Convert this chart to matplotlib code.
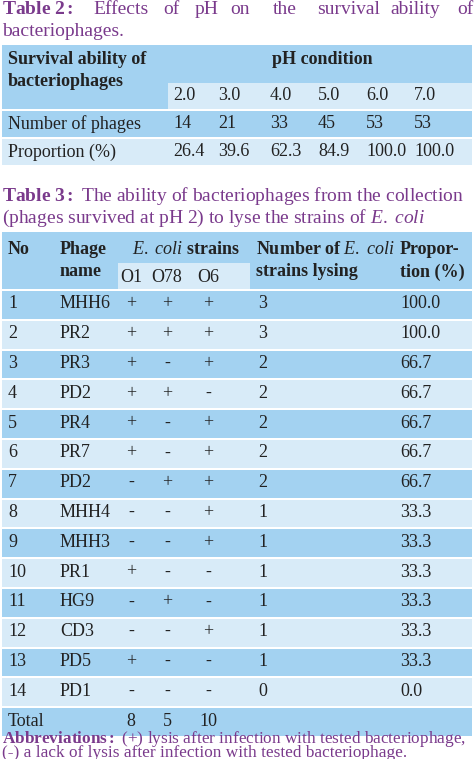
import matplotlib
matplotlib.use('Agg')
import matplotlib.pyplot as plt
from matplotlib.patches import Rectangle

plt.rcParams['font.family'] = 'Liberation Serif'
plt.rcParams['mathtext.fontset'] = 'custom'
plt.rcParams['mathtext.rm'] = 'Liberation Serif'
plt.rcParams['mathtext.it'] = 'Liberation Serif:italic'
plt.rcParams['mathtext.bf'] = 'Liberation Serif:bold'

# Table 2 data
ph_values = ['2.0', '3.0', '4.0', '5.0', '6.0', '7.0']
n_phages = ['14', '21', '33', '45', '53', '53']
proportion_ph = ['26.4', '39.6', '62.3', '84.9', '100.0', '100.0']

# Table 3 data
phage_no = [str(i) for i in range(1, 15)]
phage_names = ['MHH6', 'PR2', 'PR3', 'PD2', 'PR4', 'PR7', 'PD2', 'MHH4', 'MHH3',
               'PR1', 'HG9', 'CD3', 'PD5', 'PD1']
o1 = ['+', '+', '+', '+', '+', '+', '-', '-', '-', '+', '-', '-', '+', '-']
o78 = ['+', '+', '-', '+', '-', '-', '+', '-', '-', '-', '+', '-', '-', '-']
o6 = ['+', '+', '+', '-', '+', '+', '+', '+', '+', '-', '-', '+', '-', '-']
n_lysing = ['3', '3', '2', '2', '2', '2', '2', '1', '1', '1', '1', '1', '1', '0']
prop_lysing = ['100.0', '100.0', '66.7', '66.7', '66.7', '66.7', '66.7', '33.3', '33.3',
               '33.3', '33.3', '33.3', '33.3', '0.0']
totals = ['8', '5', '10']

DARK = '#a3d2f1'
LIGHT = '#d8ebf8'
PURPLE = '#7a3a8c'
FS = 13
TFS = 14

fig = plt.figure(figsize=(4.74, 7.59), dpi=100)
ax = fig.add_axes([0, 0, 1, 1])
ax.set_xlim(0, 474)
ax.set_ylim(759, 0)
ax.axis('off')


def band(y0, y1, color, x0=2, x1=472):
    ax.add_patch(Rectangle((x0, y0), x1 - x0, y1 - y0, color=color, lw=0))


def txt(x, y, s, **kw):
    kw.setdefault('fontsize', FS)
    kw.setdefault('va', 'center')
    kw.setdefault('color', '#222222')
    ax.text(x, y, s, **kw)


# ---- Table 2 ----
txt(2, 9, r'$\mathbf{Table\ 2:}$', color=PURPLE, fontsize=TFS)
# justified first title line
for x, w in zip([93, 163, 195, 230, 273, 317, 390, 457],
                ['Effects', 'of', 'pH', 'on', 'the', 'survival', 'ability', 'of']):
    txt(x, 9, w, color=PURPLE, fontsize=TFS)
txt(2, 31, 'bacteriophages.', color=PURPLE, fontsize=TFS)
band(45, 109, DARK)
band(83, 109, LIGHT, x0=168)
txt(8, 59, 'Survival ability of', fontweight='bold')
txt(8, 81, 'bacteriophages', fontweight='bold')
txt(322, 59, 'pH condition', fontweight='bold', ha='center')
ph_x = [173, 218, 270, 318, 366, 414]
for x, a, b, c in zip(ph_x, ph_values, n_phages, proportion_ph):
    txt(x, 96, a)
    txt(x, 124, b)
    txt(x, 152, c)
band(111, 137, DARK)
band(139, 165, LIGHT)
txt(8, 124, 'Number of phages')
txt(8, 152, 'Proportion (%)')

# ---- Table 3 ----
txt(2, 196, r'$\mathbf{Table\ 3:}$ The ability of bacteriophages from the collection', color=PURPLE, fontsize=TFS)
txt(2, 218, r'(phages survived at pH 2) to lyse the strains of $\mathit{E.\ coli}$', color=PURPLE, fontsize=TFS)
band(232, 289, DARK)
band(263, 289, LIGHT, x0=118, x1=250)
txt(8, 250, 'No', fontweight='bold')
txt(60, 250, 'Phage', fontweight='bold')
txt(60, 272, 'name', fontweight='bold')
txt(186, 250, r'$\mathit{E.\ coli}$ strains', fontweight='bold', ha='center')
txt(256, 250, r'Number of $\mathit{E.\ coli}$', fontweight='bold')
txt(256, 272, 'strains lysing', fontweight='bold')
txt(400, 250, 'Propor-', fontweight='bold')
txt(400, 272, 'tion (%)', fontweight='bold')
cx = [131, 167, 208]
for x, s in zip(cx, ['O1', 'O78', 'O6']):
    txt(x, 277, s, ha='center')

row_h = 29.8
y_start = 291
for i in range(len(phage_no) + 1):
    y0 = y_start + i * row_h
    band(y0, y0 + row_h - 2, DARK if i % 2 == 0 else LIGHT)
for i, (no, nm, a, b, c, n, p) in enumerate(zip(phage_no, phage_names, o1, o78, o6,
                                                  n_lysing, prop_lysing)):
    yc = y_start + i * row_h + row_h / 2 - 2
    txt(8, yc, no)
    txt(60, yc, nm)
    for x, s in zip(cx, [a, b, c]):
        txt(x, yc, s, ha='center')
    txt(258, yc, n)
    txt(400, yc, p)
yc = y_start + len(phage_no) * row_h + row_h / 2 - 2
txt(8, yc, 'Total')
for x, s in zip(cx, totals):
    txt(x, yc, s, ha='center')

txt(2, 739, r'$\mathbf{Abbreviations:}$ (+) lysis after infection with tested bacteriophage,',
    color=PURPLE, fontsize=12.4)
txt(2, 753, '(-) a lack of lysis after infection with tested bacteriophage.',
    color=PURPLE, fontsize=12.4)

fig.savefig('out.png', dpi=100)
